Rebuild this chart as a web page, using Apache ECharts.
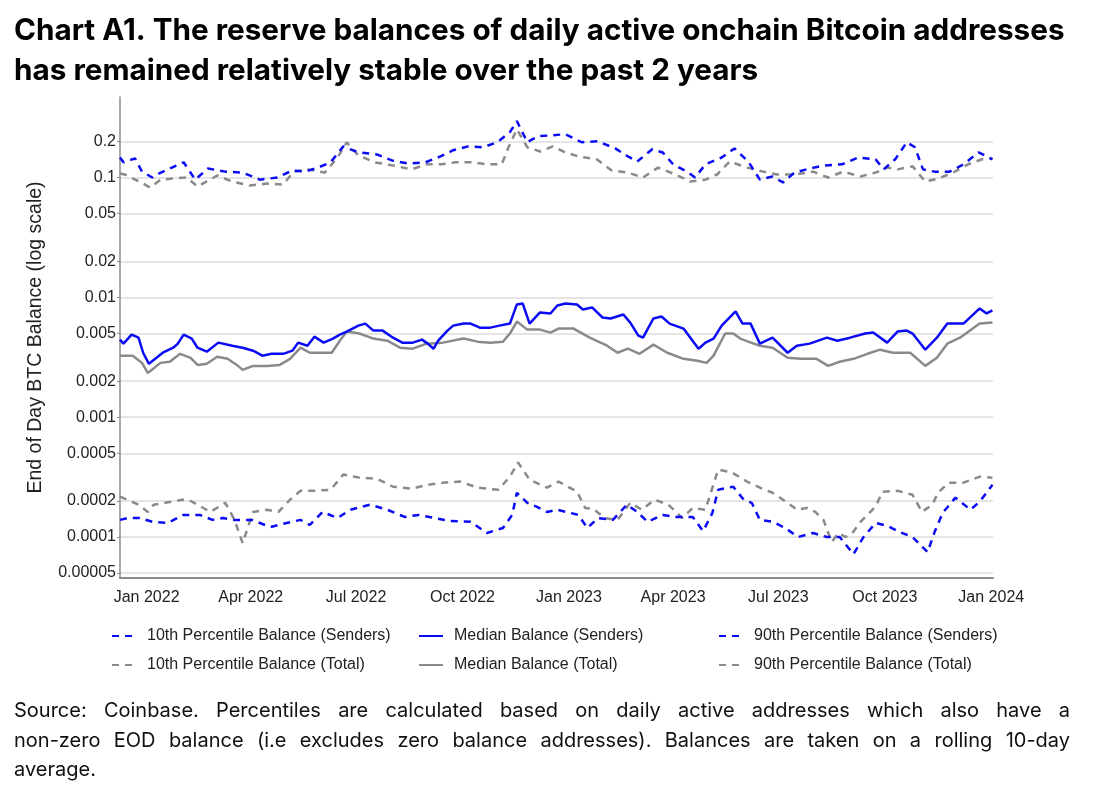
<!DOCTYPE html>
<html><head><meta charset="utf-8">
<script src="https://cdn.jsdelivr.net/npm/echarts@6/dist/echarts.min.js"></script>
<style>html,body{margin:0;padding:0;background:#fff}#c{width:1094px;height:798px}</style>
</head><body><div id="c"></div>
<script>
// ---- data (x = days since 2021-12-09, y = BTC balance) ----
const startDate = [2021, 11, 9];
const spanDays = 754.5;
const xTickDates = [[2022,0,1],[2022,3,1],[2022,6,1],[2022,9,1],[2023,0,1],[2023,3,1],[2023,6,1],[2023,9,1],[2024,0,1]];
const monthNames = ['Jan','Feb','Mar','Apr','May','Jun','Jul','Aug','Sep','Oct','Nov','Dec'];
const yTickValues = [0.00005,0.0001,0.0002,0.0005,0.001,0.002,0.005,0.01,0.02,0.05,0.1,0.2];

const sendersP90Days = [0,3,13,19,28,32,43,55,65,76,91,106,121,136,149,160,171,182,193,206,222,235,249,264,277,288,301,314,326,337,343,352,361,373,385,399,413,428,439,447,460,469,478,490,497,506,520,531,543,553,564,573,583,596,609,624,638,653,660,670,680,687,694,704,717,729,742,754];
const sendersP90 = [0.147,0.134,0.1445,0.112,0.100,0.106,0.119,0.134,0.096,0.119,0.112,0.110,0.096,0.100,0.1145,0.112,0.121,0.134,0.182,0.162,0.156,0.139,0.131,0.134,0.150,0.169,0.182,0.179,0.197,0.239,0.296,0.197,0.221,0.225,0.230,0.197,0.201,0.175,0.150,0.136,0.172,0.162,0.129,0.112,0.100,0.129,0.147,0.175,0.136,0.096,0.102,0.091,0.110,0.119,0.126,0.129,0.147,0.142,0.117,0.142,0.197,0.179,0.117,0.112,0.112,0.129,0.162,0.142];

const totalP90Days = [0,4,17,26,35,45,58,67,84,97,112,127,141,150,163,177,188,196,206,220,236,252,265,278,290,304,317,330,335,343,352,363,374,383,396,412,425,439,452,465,480,493,506,516,527,542,556,568,583,599,612,625,640,653,663,672,685,696,707,720,733,745,754];
const totalP90 = [0.108,0.106,0.0925,0.0824,0.096,0.098,0.100,0.084,0.104,0.0925,0.0857,0.089,0.0873,0.112,0.117,0.110,0.147,0.197,0.153,0.134,0.126,0.117,0.129,0.129,0.134,0.134,0.129,0.129,0.172,0.253,0.179,0.165,0.182,0.165,0.150,0.142,0.1145,0.110,0.100,0.121,0.106,0.0925,0.096,0.106,0.136,0.121,0.112,0.106,0.106,0.112,0.100,0.112,0.102,0.110,0.121,0.117,0.124,0.0925,0.098,0.110,0.129,0.142,0.1445];

const sendersMedDays = [0,3,10,16,20,25,37,46,50,55,62,67,75,85,97,106,115,123,131,141,149,154,162,168,176,184,190,196,206,212,219,227,236,244,253,261,266,271,275,283,288,297,303,311,320,328,337,343,348,354,363,372,378,385,395,400,408,417,424,435,441,448,452,461,468,475,487,500,506,513,520,532,538,545,553,564,577,585,596,611,620,631,644,651,663,672,680,685,696,706,715,729,743,749,754];
const sendersMed = [0.00444,0.00411,0.00489,0.00461,0.00345,0.00279,0.00345,0.00380,0.00411,0.00489,0.00453,0.00380,0.00352,0.00419,0.00395,0.00380,0.00359,0.00326,0.00338,0.00338,0.00359,0.00419,0.00395,0.00470,0.00419,0.00453,0.00489,0.00518,0.00581,0.00604,0.00528,0.00528,0.00461,0.00419,0.00419,0.00444,0.00411,0.00373,0.00435,0.00528,0.00581,0.00604,0.00604,0.00559,0.00559,0.00581,0.00604,0.00873,0.00890,0.00604,0.00748,0.00734,0.00856,0.00890,0.00873,0.00793,0.00824,0.00679,0.00666,0.00720,0.00616,0.00480,0.00461,0.00666,0.00692,0.00604,0.00549,0.00373,0.00419,0.00453,0.00581,0.00763,0.00604,0.00604,0.00411,0.00461,0.00345,0.00395,0.00411,0.00461,0.00435,0.00461,0.00499,0.00508,0.00419,0.00518,0.00528,0.00499,0.00366,0.00461,0.00604,0.00604,0.00808,0.00734,0.00778];

const totalMedDays = [0,11,19,24,35,43,52,61,67,75,84,93,101,106,115,127,138,147,156,164,176,183,190,196,207,219,231,242,253,265,279,297,309,320,331,337,343,352,363,372,379,392,406,421,430,439,449,461,473,487,499,507,513,523,530,536,543,553,564,577,588,602,612,622,634,646,657,668,683,696,706,715,726,737,743,754];
const totalMed = [0.00326,0.00326,0.00284,0.00234,0.00284,0.00290,0.00338,0.00313,0.00273,0.00279,0.00319,0.00307,0.00273,0.00248,0.00268,0.00268,0.00273,0.00307,0.00380,0.00345,0.00345,0.00345,0.00435,0.00518,0.00499,0.00453,0.00435,0.00380,0.00373,0.00411,0.00419,0.00453,0.00427,0.00419,0.00427,0.00499,0.00628,0.00538,0.00538,0.00508,0.00549,0.00549,0.00461,0.00395,0.00345,0.00373,0.00338,0.00403,0.00345,0.00307,0.00296,0.00284,0.00326,0.00499,0.00499,0.00453,0.00427,0.00395,0.00380,0.00313,0.00307,0.00307,0.00268,0.00290,0.00307,0.00338,0.00366,0.00345,0.00345,0.00268,0.00313,0.00411,0.00461,0.00549,0.00604,0.00616];

const sendersP10Days = [0,7,17,28,41,55,69,80,89,99,114,130,144,156,164,175,188,199,216,231,246,258,272,285,303,317,331,339,343,352,360,369,378,396,404,413,426,438,447,456,469,481,495,504,512,517,530,539,546,553,564,575,586,599,611,622,634,642,653,663,674,685,698,704,711,722,735,743,754];
const sendersP10 = [0.000139,0.000144,0.000144,0.000134,0.000131,0.000153,0.000153,0.000139,0.000144,0.000139,0.000139,0.000121,0.000131,0.000139,0.000126,0.000162,0.000144,0.000169,0.000186,0.000169,0.000147,0.000153,0.000144,0.000136,0.000134,0.000108,0.000119,0.000153,0.000234,0.000193,0.000179,0.000162,0.000169,0.000153,0.000119,0.000144,0.000139,0.000186,0.000162,0.000134,0.000153,0.000147,0.000147,0.000112,0.000159,0.000248,0.000263,0.000205,0.000193,0.000139,0.000134,0.000119,0.0001,0.000108,0.0001,0.0001,0.0000719,0.0000981,0.000131,0.000124,0.000110,0.0001,0.0000748,0.000110,0.000159,0.000213,0.000169,0.000197,0.000273];

const totalP10Days = [0,6,16,24,29,39,54,59,67,78,91,99,106,115,127,137,147,156,167,182,193,207,222,236,252,266,279,294,309,327,337,344,354,369,379,395,402,409,419,430,441,451,462,474,486,495,506,512,517,529,542,553,564,577,585,594,601,608,615,621,627,633,640,646,653,659,672,685,693,702,707,716,729,743,754];
const totalP10 = [0.000217,0.000205,0.000186,0.000162,0.000186,0.000193,0.000205,0.000205,0.000186,0.000162,0.000193,0.000139,0.0000890,0.000162,0.000169,0.000162,0.000205,0.000243,0.000243,0.000248,0.000332,0.000313,0.000307,0.000263,0.000253,0.000273,0.000284,0.000290,0.000258,0.000248,0.000319,0.000419,0.000301,0.000258,0.000290,0.000239,0.000175,0.000172,0.000144,0.000139,0.000193,0.000169,0.000205,0.000186,0.000144,0.000175,0.000169,0.000258,0.000366,0.000345,0.000290,0.000258,0.000234,0.000193,0.000169,0.000175,0.000162,0.000139,0.0000907,0.000108,0.0001,0.000108,0.000134,0.000153,0.000179,0.000239,0.000243,0.000225,0.000162,0.000186,0.000234,0.000284,0.000284,0.000319,0.000313];

const titleText = 'Chart A1. The reserve balances of daily active onchain Bitcoin addresses\nhas remained relatively stable over the past 2 years';
const yAxisName = 'End of Day BTC Balance (log scale)';
const footLines = [
  'Source: Coinbase. Percentiles are calculated based on daily active addresses which also have a',
  'non-zero EOD balance (i.e excludes zero balance addresses). Balances are taken on a rolling 10-day',
  'average.'
];
const N = {
  s10: '10th Percentile Balance (Senders)', t10: '10th Percentile Balance (Total)',
  sMed: 'Median Balance (Senders)', tMed: 'Median Balance (Total)',
  s90: '90th Percentile Balance (Senders)', t90: '90th Percentile Balance (Total)'
};

// ---- build ----
const DAY = 86400000;
const T0 = Date.UTC(startDate[0], startDate[1], startDate[2]);
const zip = (days, vals) => days.map((d, i) => [T0 + d * DAY, vals[i]]);
const xTicks = xTickDates.map(d => Date.UTC(d[0], d[1], d[2]));

const BLUE = '#0a0af5', GREY = '#8a8a8a';
const FONT = '"Liberation Sans", Arial, sans-serif';
function ser(name, days, vals, color, dashed) {
  return {
    name, type: 'line', data: zip(days, vals), showSymbol: false, symbol: 'none',
    lineStyle: { color, width: 2.5, type: dashed ? [7, 6] : 'solid' },
    itemStyle: { color }, emphasis: { disabled: true }, z: color === BLUE ? 3 : 2
  };
}

const chart = echarts.init(document.getElementById('c'), null, { renderer: 'canvas' });

// justified footnote
const ctx = document.createElement('canvas').getContext('2d');
const footFont = '20px Inter';
ctx.font = footFont;
const footLeft = 14, footRight = 1070, footY = [711, 741, 770];
const graphics = [];
footLines.forEach((line, li) => {
  if (li === footLines.length - 1) {
    graphics.push({ type: 'text', x: footLeft, y: footY[li], style: { text: line, font: footFont, fill: '#111', verticalAlign: 'middle', textVerticalAlign: 'middle' } });
    return;
  }
  const words = line.split(' ');
  const widths = words.map(w => ctx.measureText(w).width);
  const total = widths.reduce((a, b) => a + b, 0);
  const gap = (footRight - footLeft - total) / (words.length - 1);
  let x = footLeft;
  words.forEach((w, i) => {
    graphics.push({ type: 'text', x: x, y: footY[li], style: { text: w, font: footFont, fill: '#111', verticalAlign: 'middle', textVerticalAlign: 'middle' } });
    x += widths[i] + gap;
  });
});

const legendBase = {
  orient: 'vertical', top: 623, itemWidth: 24, itemHeight: 14, itemGap: 13,
  itemStyle: { opacity: 0 },
  textStyle: { fontSize: 16, fontFamily: FONT, color: '#222', padding: [0, 0, 0, 6] }, selectedMode: false
};

chart.setOption({
  animation: false,
  backgroundColor: '#fff',
  title: {
    text: titleText, left: 9, top: 6,
    textStyle: { fontFamily: 'Inter', fontWeight: 700, fontSize: 29.7, lineHeight: 40, color: '#000' }
  },
  grid: { left: 120, right: 101, top: 97, bottom: 220, containLabel: false },
  legend: [
    Object.assign({ left: 106, data: [N.s10, N.t10] }, legendBase),
    Object.assign({ left: 413, data: [N.sMed, N.tMed] }, legendBase),
    Object.assign({ left: 713, data: [N.s90, N.t90] }, legendBase)
  ],
  xAxis: {
    type: 'value', min: T0, max: T0 + spanDays * DAY,
    axisLine: { show: true, onZero: false, lineStyle: { color: '#8c8c8c', width: 2 } },
    axisTick: { show: false },
    splitLine: { show: false },
    axisLabel: {
      customValues: xTicks, fontSize: 16, fontFamily: FONT, color: '#222', margin: 12,
      formatter: v => { const d = new Date(v); return monthNames[d.getUTCMonth()] + ' ' + d.getUTCFullYear(); }
    }
  },
  yAxis: {
    type: 'log', logBase: 10, min: 0.0000455, max: 0.47,
    name: yAxisName, nameLocation: 'middle', nameGap: 74,
    nameTextStyle: { fontSize: 19.5, fontFamily: FONT, color: '#222' },
    axisLine: { show: true, lineStyle: { color: '#8c8c8c', width: 1.5 } },
    axisTick: { show: true, length: 3, customValues: yTickValues, lineStyle: { color: '#8c8c8c' } },
    axisLabel: {
      customValues: yTickValues, fontSize: 16, fontFamily: FONT, color: '#222', margin: 4,
      formatter: v => String(+(+v).toPrecision(3))
    },
    splitLine: { show: true, lineStyle: { color: '#dcdcdc', width: 1.5 } }
  },
  graphic: graphics,
  series: [
    ser(N.t10, totalP10Days, totalP10, GREY, true),
    ser(N.tMed, totalMedDays, totalMed, GREY, false),
    ser(N.t90, totalP90Days, totalP90, GREY, true),
    ser(N.s10, sendersP10Days, sendersP10, BLUE, true),
    ser(N.sMed, sendersMedDays, sendersMed, BLUE, false),
    ser(N.s90, sendersP90Days, sendersP90, BLUE, true)
  ]
});
</script>
</body></html>
